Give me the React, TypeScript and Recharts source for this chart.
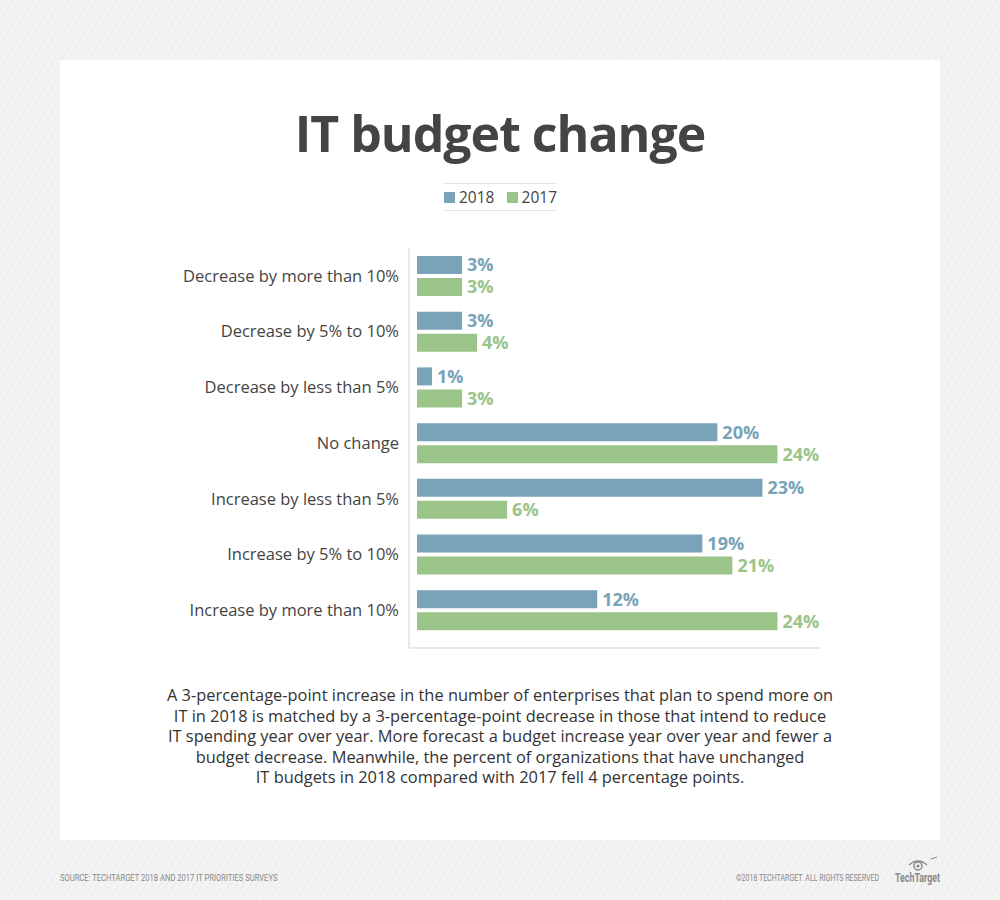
import { BarChart, Bar, XAxis, YAxis, LabelList } from 'recharts'

// categories, top to bottom
const categories = [
  'Decrease by more than 10%',
  'Decrease by 5% to 10%',
  'Decrease by less than 5%',
  'No change',
  'Increase by less than 5%',
  'Increase by 5% to 10%',
  'Increase by more than 10%',
]
const values2018 = [3, 3, 1, 20, 23, 19, 12]
const values2017 = [3, 4, 3, 24, 6, 21, 24]

const seriesNames = ['2018', '2017']
const blue = '#78a3b8'
const green = '#9ac488'

const noteLines = [
  'A 3-percentage-point increase in the number of enterprises that plan to spend more on',
  'IT in 2018 is matched by a 3-percentage-point decrease in those that intend to reduce',
  'IT spending year over year. More forecast a budget increase year over year and fewer a',
  'budget decrease. Meanwhile, the percent of organizations that have unchanged',
  'IT budgets in 2018 compared with 2017 fell 4 percentage points.',
]

const chartData = categories.map((name, i) => ({
  name,
  y2018: values2018[i],
  y2017: values2017[i],
}))

const font = '"Open Sans", "Noto Sans", sans-serif'
const narrow = '"Liberation Sans Narrow", "Roboto", sans-serif'

export default function App() {
  return (
    <div
      style={{
        position: 'absolute',
        left: 0,
        top: 0,
        width: 1000,
        height: 900,
        fontFamily: font,
        background:
          'repeating-linear-gradient(120deg, #f3f3f3 0px, #f3f3f3 4px, #ececec 5px, #f3f3f3 6px)',
        overflow: 'hidden',
      }}
    >
      {/* white card */}
      <div style={{ position: 'absolute', left: 60, top: 60, width: 880, height: 780, background: '#fff' }} />

      <div
        style={{
          position: 'absolute',
          left: 0,
          width: 1000,
          top: 98,
          textAlign: 'center',
          fontSize: 50,
          fontWeight: 700,
          color: '#444',
          letterSpacing: -1,
          lineHeight: '70px',
        }}
      >
        IT budget change
      </div>

      {/* legend */}
      <div
        style={{
          position: 'absolute',
          left: 443,
          top: 183,
          width: 114,
          height: 26,
          borderTop: '1px solid #e2e2e2',
          borderBottom: '1px solid #e2e2e2',
          display: 'flex',
          alignItems: 'center',
          justifyContent: 'space-between',
          fontSize: 15.5,
          color: '#444',
        }}
      >
        {seriesNames.map((s, i) => (
          <span key={s} style={{ display: 'flex', alignItems: 'center' }}>
            <span style={{ width: 11, height: 11, background: i === 0 ? blue : green, marginRight: 4, marginLeft: 1 }} />
            {s}
          </span>
        ))}
      </div>

      <div style={{ position: 'absolute', left: 0, top: 0 }}>
        <BarChart
          width={1000}
          height={900}
          data={chartData}
          layout="vertical"
          margin={{ top: 248, right: 179, bottom: 251, left: 0 }}
          barSize={18}
          barGap={4}
          barCategoryGap={0}
        >
          <XAxis
            type="number"
            domain={[0, 26.9]}
            padding={{ left: 8 }}
            tick={false}
            tickLine={false}
            height={1}
            axisLine={{ stroke: '#e2e2e2', strokeWidth: 1.5 }}
          />
          <YAxis
            type="category"
            dataKey="name"
            width={409}
            padding={{ top: 0, bottom: 10 }}
            tickLine={false}
            tickMargin={4}
            axisLine={{ stroke: '#e2e2e2', strokeWidth: 1.5 }}
            tick={{ fill: '#444', fontSize: 16.5, fontWeight: 500 }}
            interval={0}
          />
          <Bar dataKey="y2018" fill={blue} isAnimationActive={false}>
            <LabelList
              dataKey="y2018"
              position="right"
              offset={5}
              formatter={(v: any) => `${v}%`}
              style={{ fill: blue, fontSize: 18, fontWeight: 700 }}
            />
          </Bar>
          <Bar dataKey="y2017" fill={green} isAnimationActive={false}>
            <LabelList
              dataKey="y2017"
              position="right"
              offset={5}
              formatter={(v: any) => `${v}%`}
              style={{ fill: green, fontSize: 18, fontWeight: 700 }}
            />
          </Bar>
        </BarChart>
      </div>

      {/* explanatory note */}
      <div
        style={{
          position: 'absolute',
          left: 0,
          width: 1000,
          top: 685,
          textAlign: 'center',
          fontSize: 16.4,
          lineHeight: '20.5px',
          color: '#333',
        }}
      >
        {noteLines.map((l) => (
          <div key={l} style={{ whiteSpace: 'nowrap', height: 20.5 }}>{l}</div>
        ))}
      </div>

      {/* footer */}
      <div
        style={{
          position: 'absolute',
          left: 60,
          top: 872,
          fontSize: 9.5,
          color: '#888',
          fontFamily: narrow,
          whiteSpace: 'nowrap',
          transform: 'scaleX(0.8)',
          transformOrigin: 'left',
        }}
      >
        SOURCE: TECHTARGET 2018 AND 2017 IT PRIORITIES SURVEYS
      </div>
      <div
        style={{
          position: 'absolute',
          left: 736,
          top: 872,
          fontSize: 9.5,
          color: '#888',
          fontFamily: narrow,
          whiteSpace: 'nowrap',
          transform: 'scaleX(0.74)',
          transformOrigin: 'left',
        }}
      >
        ©2018 TECHTARGET. ALL RIGHTS RESERVED
      </div>
      <svg style={{ position: 'absolute', left: 893, top: 856 }} width={54} height={36}>
        <path d="M16 9 Q25 1 34 9" fill="none" stroke="#888" strokeWidth={1.5} />
        <path d="M38 3 L44 1" fill="none" stroke="#888" strokeWidth={1} />
        <circle cx={25} cy={10} r={4} fill="none" stroke="#888" strokeWidth={1.5} />
        <circle cx={25} cy={10} r={1.5} fill="#888" />
        <text
          x={2}
          y={26}
          fontSize={12}
          fontWeight={700}
          fill="#888"
          fontFamily={narrow}
          textLength={45}
          lengthAdjust="spacingAndGlyphs"
        >
          TechTarget
        </text>
      </svg>
    </div>
  )
}
